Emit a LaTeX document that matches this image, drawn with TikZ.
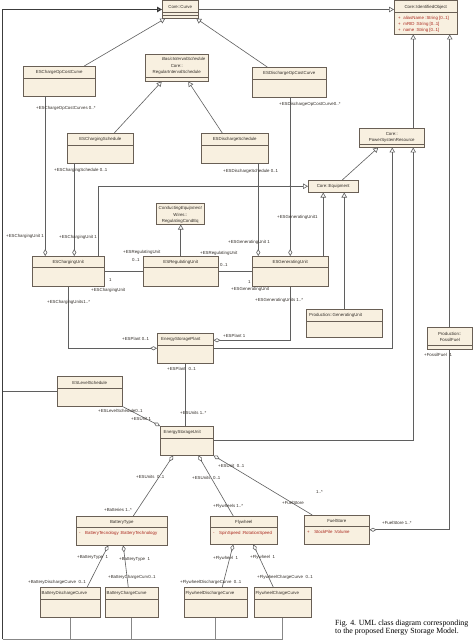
\documentclass[tikz,border=0pt]{standalone}
\usepackage{fontspec}
\setmainfont{Liberation Sans}
\newfontfamily\capfont{Liberation Serif}
\usetikzlibrary{arrows.meta,shadows,calc}
\definecolor{boxfill}{RGB}{248,240,224}
\definecolor{boxdraw}{RGB}{105,95,85}
\definecolor{linec}{RGB}{95,95,95}
\definecolor{trunkc}{RGB}{60,60,60}
\definecolor{trunkg}{RGB}{135,135,135}
\definecolor{txt}{RGB}{50,45,40}
\definecolor{attrc}{RGB}{170,40,30}
\newcommand\umlbox[5]{\node[cls, minimum width={((#4)-(#2))*1bp}, minimum height={((#5)-(#3))*1bp}] (#1) at (#2,#3) {};}
\newcommand\umlsep[2]{\draw[sepl] ([yshift=-#2bp]#1.north west) -- ([yshift=-#2bp]#1.north east);}
\begin{document}
\begin{tikzpicture}[x=1bp,y=-1bp,
  cls/.style={draw=boxdraw, fill=boxfill, line width=0.5bp, inner sep=0pt, anchor=north west,
    drop shadow={shadow xshift=0.9bp, shadow yshift=-0.9bp, fill=black!65, opacity=0.9}},
  sepl/.style={draw=boxdraw, line width=0.45bp},
  ttl/.style={font=\fontsize{4.4pt}{5pt}\selectfont, text=txt, inner sep=0pt},
  ttlw/.style={ttl, anchor=west},
  lbl/.style={font=\fontsize{4.4pt}{5pt}\selectfont, text=txt, inner sep=0pt, anchor=west},
  attr/.style={font=\fontsize{4.4pt}{5pt}\selectfont, text=attrc, inner sep=0pt, anchor=west},
  conn/.style={draw=linec, line width=0.6bp},
  trunk/.style={draw=trunkc, line width=1.5bp},
  trunkh/.style={draw=trunkg, line width=1bp},
  gen/.style={conn, -{Triangle[open, length=5bp, width=5.5bp]}},
  agg/.style={conn, -{Diamond[open, length=7bp, width=4bp]}},
  captxt/.style={font=\capfont\fontsize{7.9pt}{9pt}\selectfont, inner sep=0pt, anchor=base west}
]
\useasboundingbox[fill=white] (0,0) rectangle (474,641);

% ---------- class boxes ----------
\umlbox{curve}{162}{0.5}{198}{18}
\umlbox{idobj}{394}{0.5}{457}{34}
\umlbox{opcost}{23}{66}{95}{96}
\umlbox{bis}{145}{54}{208}{81}
\umlbox{dopcost}{252}{67}{326}{97}
\umlbox{chsched}{67}{133}{133}{163}
\umlbox{dchsched}{201}{133}{268}{163}
\umlbox{psr}{359}{128}{424}{147}
\umlbox{equip}{308}{180}{358}{192}
\umlbox{condeq}{156}{203}{204}{224}
\umlbox{chunit}{32}{256}{104}{286}
\umlbox{regunit}{143}{256}{218}{286}
\umlbox{genunit}{252}{256}{328}{286}
\umlbox{prodgen}{306}{309}{382}{337}
\umlbox{fossil}{427}{327}{472}{349}
\umlbox{plant}{157}{333}{213}{363}
\umlbox{levsched}{57}{376}{122}{406}
\umlbox{esunit}{160}{426}{213}{455}
\umlbox{battery}{76}{516}{167}{545}
\umlbox{flywheel}{210}{516}{277}{544}
\umlbox{fuelstore}{304}{515}{369}{544}
\umlbox{bdc}{40}{587}{100}{617}
\umlbox{bcc}{105}{587}{158}{617}
\umlbox{fdc}{184}{587}{247}{617}
\umlbox{fcc}{254}{587}{311}{617}

% ---------- separators ----------
\umlsep{curve}{11.5}\umlsep{curve}{14.5}
\umlsep{idobj}{12}
\umlsep{opcost}{12}
\umlsep{bis}{23}
\umlsep{dopcost}{12}
\umlsep{chsched}{12}
\umlsep{dchsched}{12}
\umlsep{psr}{16}
\umlsep{chunit}{11}
\umlsep{regunit}{11}
\umlsep{genunit}{11}
\umlsep{prodgen}{12}
\umlsep{fossil}{18}
\umlsep{plant}{12}
\umlsep{levsched}{12}
\umlsep{esunit}{12}
\umlsep{battery}{11}
\umlsep{flywheel}{11}
\umlsep{fuelstore}{11}
\umlsep{bdc}{12}
\umlsep{bcc}{12}
\umlsep{fdc}{12}
\umlsep{fcc}{12}

% ---------- class names ----------
\node[ttl] (t1) at ([yshift=-6bp]curve.north) {Core::Curve};
\node[ttl] (t2) at ([yshift=-6.5bp]idobj.north) {Core::IdentifiedObject};
\node[attr] (a1) at ([xshift=4bp,yshift=-18bp]idobj.north west) {+\hspace{2.6bp}aliasName :String [0..1]};
\node[attr] (a2) at ([xshift=4bp,yshift=-24bp]idobj.north west) {+\hspace{2.6bp}mRID :String [0..1]};
\node[attr] (a3) at ([xshift=4bp,yshift=-30bp]idobj.north west) {+\hspace{2.6bp}name :String [0..1]};
\node[ttl] (t3) at ([yshift=-6bp]opcost.north) {ESChargeOpCostCurve};
\node[ttl] (t4) at ([xshift=7bp,yshift=-5bp]bis.north) {\itshape BasicIntervalSchedule};
\node[ttl] (t4b) at ([yshift=-12bp]bis.north) {Core::};
\node[ttl] (t4c) at ([yshift=-18bp]bis.north) {RegularIntervalSchedule};
\node[ttl] (t5) at ([yshift=-6bp]dopcost.north) {ESDischargeOpCostCurve};
\node[ttl] (t6) at ([yshift=-6bp]chsched.north) {ESChargingSchedule};
\node[ttl] (t7) at ([yshift=-6bp]dchsched.north) {ESDischargeSchedule};
\node[ttl] (t8) at ([yshift=-6bp]psr.north) {Core::};
\node[ttl] (t8b) at ([yshift=-12bp]psr.north) {PowerSystemResource};
\node[ttl] (t9) at (equip.center) {Core::Equipment};
\node[ttl] (t10) at ([yshift=-5bp]condeq.north) {\itshape ConductingEquipment};
\node[ttl] (t10b) at ([yshift=-12bp]condeq.north) {Wires::};
\node[ttl] (t10c) at ([yshift=-18bp]condeq.north) {RegulatingCondEq};
\node[ttl] (t11) at ([yshift=-6bp]chunit.north) {ESChargingUnit};
\node[ttl] (t12) at ([yshift=-6bp]regunit.north) {ESRegulatingUnit};
\node[ttl] (t13) at ([yshift=-6bp]genunit.north) {ESGeneratingUnit};
\node[ttlw] (t14) at ([xshift=3bp,yshift=-6.5bp]prodgen.north west) {Production::GeneratingUnit};
\node[ttl] (t15) at ([yshift=-7bp]fossil.north) {Production::};
\node[ttl] (t15b) at ([yshift=-13bp]fossil.north) {FossilFuel};
\node[ttlw] (t16) at ([xshift=4bp,yshift=-6.5bp]plant.north west) {EnergyStoragePlant};
\node[ttl] (t17) at ([yshift=-6.5bp]levsched.north) {ESLevelSchedule};
\node[ttlw] (t18) at ([xshift=3.5bp,yshift=-6.5bp]esunit.north west) {EnergyStorageUnit};
\node[ttl] (t19) at ([yshift=-6bp]battery.north) {BatteryType};
\node[attr] (a4) at ([xshift=3bp,yshift=-17bp]battery.north west) {-\hspace{4.5bp}BatteryTecnology :BatteryTechnology};
\node[ttl] (t20) at ([yshift=-6bp]flywheel.north) {Flywheel};
\node[attr] (a5) at ([xshift=3bp,yshift=-17bp]flywheel.north west) {-\hspace{4.5bp}SpinSpeed :RotationSpeed};
\node[ttl] (t21) at ([yshift=-6bp]fuelstore.north) {FuelStore};
\node[attr] (a6) at ([xshift=3bp,yshift=-17bp]fuelstore.north west) {+\hspace{4.5bp}StockPile :Volume};
\node[ttlw] (t22) at ([xshift=1.5bp,yshift=-6.5bp]bdc.north west) {BatteryDischargeCurve};
\node[ttlw] (t23) at ([xshift=1.5bp,yshift=-6.5bp]bcc.north west) {BatteryChargeCurve};
\node[ttlw] (t24) at ([xshift=1.5bp,yshift=-6.5bp]fdc.north west) {FlywheelDischargeCurve};
\node[ttlw] (t25) at ([xshift=1.5bp,yshift=-6.5bp]fcc.north west) {FlywheelChargeCurve};

% ---------- trunk (curves generalise Core::Curve) ----------
\coordinate (tb) at (2.5,639.3);
\draw[trunkh] (fcc.south) |- (tb);
\draw[trunkh] (bdc.south) -- (bdc.south |- tb);
\draw[trunkh] (bcc.south) -- (bcc.south |- tb);
\draw[trunkh] (fdc.south) -- (fdc.south |- tb);
\draw[conn] (levsched.west) -- (levsched.west -| tb);
\draw[trunk, -{Triangle[open, length=5bp, width=5.5bp]}] (tb) |- (curve.west);

% ---------- generalisations ----------
\draw[gen] (curve.east) -- (curve.east -| idobj.west);
\draw[gen] ([xshift=25bp]opcost.north) -- ([xshift=-15bp]curve.south);
\draw[gen] ([xshift=-22bp]dopcost.north) -- ([xshift=16bp]curve.south);
\draw[gen] ([xshift=14bp]chsched.north) -- ([xshift=-15bp]bis.south);
\draw[gen] ([xshift=-12.5bp]dchsched.north) -- ([xshift=11.5bp]bis.south);
\draw[gen] ([xshift=21.5bp]psr.north) -- ([xshift=21.5bp]psr.north |- idobj.south);
\draw[gen] (fossil.north) -- (fossil.north |- idobj.south);
\draw[gen] ([xshift=9bp]equip.north) -- ([xshift=-13.5bp]psr.south);
\draw[gen] (plant.east) -| ([xshift=0.5bp]psr.south);
\draw[gen] (esunit.east) -| ([xshift=21.5bp]psr.south);
\draw[gen] ([xshift=30bp]chunit.north) |- (equip.west);
\draw[gen] ([xshift=33bp]genunit.north) -- ([xshift=33bp]genunit.north |- equip.south);
\draw[gen] (prodgen.north) -- (prodgen.north |- equip.south);
\draw[gen] (regunit.north) -- (regunit.north |- condeq.south);

% ---------- aggregations / associations ----------
\draw[agg] ([xshift=-14bp]opcost.south) -- ([xshift=-14bp]opcost.south |- chunit.north);
\draw[agg] ([xshift=-26bp]chsched.south) -- ([xshift=-26bp]chsched.south |- chunit.north);
\draw[agg] ([xshift=23.5bp]dchsched.south) -- ([xshift=23.5bp]dchsched.south |- genunit.north);
\draw[agg] ([xshift=1bp]dopcost.south) -- ([xshift=1bp]dopcost.south |- genunit.north);
\fill[linec] ([xshift=23.5bp]dchsched.south |- equip.west) circle (0.9bp);
\fill[linec] ([xshift=1bp]dopcost.south |- equip.west) circle (0.9bp);
\draw[conn] (chunit.east) -- (regunit.west);
\draw[conn] (regunit.east) -- (genunit.west);
\draw[agg] (chunit.south) |- (plant.west);
\draw[agg] (genunit.south) |- ([yshift=8bp]plant.east);
\draw[conn] (plant.south) -- (plant.south |- esunit.north);
\draw[agg] (levsched.south east) -- (esunit.north west);
\draw[agg] ([xshift=11.5bp]battery.north) -- ([xshift=-13.5bp]esunit.south);
\draw[agg] ([xshift=-10.5bp]flywheel.north) -- ([xshift=11.5bp]esunit.south);
\draw[agg] ([xshift=-24.5bp]fuelstore.north) -- (esunit.south east);
\draw[agg] (fossil.south) |- (fuelstore.east);
\draw[agg] ([xshift=17bp]bdc.north) -- ([xshift=-13.5bp]battery.south);
\draw[agg] ([xshift=-3.5bp]bcc.north) -- ([xshift=1.5bp]battery.south);
\draw[agg] ([xshift=6.5bp]fdc.north) -- ([xshift=-10.5bp]flywheel.south);
\draw[agg] ([xshift=-9.5bp]fcc.north) -- ([xshift=9.5bp]flywheel.south);

% ---------- role labels ----------
\node[lbl] (l1) at (36,108) {+ESChargeOpCostCurves 0..*};
\node[lbl] (l2) at (6,236) {+ESChargingUnit 1};
\node[lbl] (l3) at (54,170) {+ESChargingSchedule 0..1};
\node[lbl] (l4) at (59,237) {+ESChargingUnit 1};
\node[lbl] (l5) at (123,252) {+ESRegulatingUnit};
\node[lbl] (l6) at (132,260) {0..1};
\node[lbl] (l7) at (109,280) {1};
\node[lbl] (l8) at (91,290) {+ESChargingUnit};
\node[lbl] (l9) at (200,253) {+ESRegulatingUnit};
\node[lbl] (l10) at (220,265) {0..1};
\node[lbl] (l11) at (248,282) {1};
\node[lbl] (l12) at (231,289) {+ESGeneratingUnit};
\node[lbl] (l13) at (223,171) {+ESDischargeSchedule 0..1};
\node[lbl] (l14) at (228,242) {+ESGeneratingUnit 1};
\node[lbl] (l15) at (277,217) {+ESGeneratingUnit1};
\node[lbl] (l16) at (279,104) {+ESDischargeOpCostCurve0..*};
\node[lbl] (l17) at (47,302) {+ESChargingUnits1..*};
\node[lbl] (l18) at (122,339) {+ESPlant 0..1};
\node[lbl] (l19) at (255,300) {+ESGeneratingUnits 1..*};
\node[lbl] (l20) at (223,336) {+ESPlant 1};
\node[lbl] (l21) at (167,369) {+ESPlant\hspace{3bp}0..1};
\node[lbl] (l22) at (180,413) {+ESUnits 1..*};
\node[lbl] (l23) at (98,411) {+ESLevelSchedule0..1};
\node[lbl] (l24) at (131,419) {+ESUnit 1};
\node[lbl] (l25) at (424,355) {+FossilFuel\hspace{3bp}1};
\node[lbl] (l26) at (382,523) {+FuelStore 1..*};
\node[lbl] (l27) at (136,477) {+ESUnits\hspace{2.5bp}0..1};
\node[lbl] (l28) at (104,510) {+Batteries 1..*};
\node[lbl] (l29) at (192,478) {+ESUnits\hspace{2.5bp}0..1};
\node[lbl] (l30) at (213,506) {+Flywheels 1..*};
\node[lbl] (l31) at (218,466) {+ESUnit\hspace{2.5bp}0..1};
\node[lbl] (l32) at (282,503) {+FuelStore};
\node[lbl] (l33) at (316,492) {1..*};
\node[lbl] (l34) at (77,557) {+BatteryType\hspace{2.5bp}1};
\node[lbl] (l35) at (119,559) {+BatteryType\hspace{2.5bp}1};
\node[lbl] (l36) at (28,582) {+BatteryDischargeCurve\hspace{2.5bp}0..1};
\node[lbl] (l37) at (108,577) {+BatteryChargeCurv0..1};
\node[lbl] (l38) at (213,558) {+Flywheel\hspace{2.5bp}1};
\node[lbl] (l39) at (250,557) {+Flywheel\hspace{2.5bp}1};
\node[lbl] (l40) at (180,582) {+FlywheelDischargeCurve\hspace{2.5bp}0..1};
\node[lbl] (l41) at (257,577) {+FlywheelChargeCurve\hspace{2.5bp}0..1};

% ---------- caption ----------
\node[captxt] (cap1) at (335,625) {Fig. 4. UML class diagram corresponding};
\node[captxt] (cap2) at (335,633.5) {to the proposed Energy Storage Model.};
\end{tikzpicture}
\end{document}
